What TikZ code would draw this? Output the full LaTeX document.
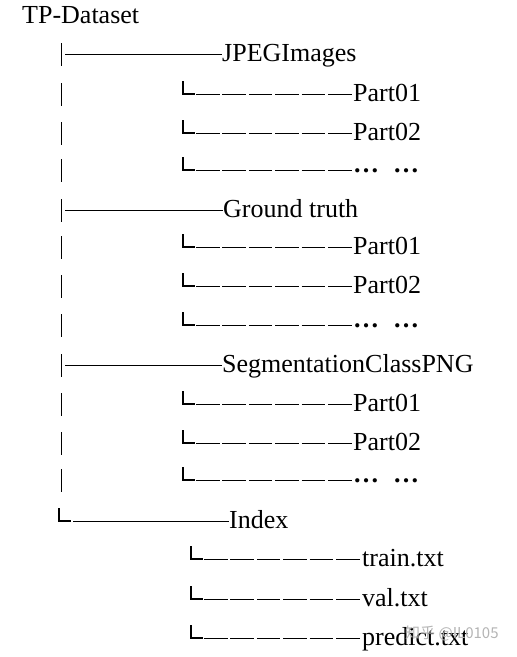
\documentclass[tikz,border=0pt]{standalone}
\usepackage{fontspec}
\setmainfont{Liberation Serif}
\newfontfamily\cjk{Noto Sans CJK SC}
\usepackage{xcolor}
\usetikzlibrary{calc}
\definecolor{ink}{HTML}{000000}
\definecolor{mark}{HTML}{B4B4B4}
\tikzset{
  lbl/.style={anchor=base west, inner sep=0pt, text=ink, font=\fontsize{26}{30}\selectfont},
  trunk/.style={draw=ink, line width=0.9pt},
  dline/.style={draw=ink, line width=0.9pt, dash pattern=on 23.6pt off 2.8pt},
  bar/.style={draw=ink, line width=1pt},
  corner/.style={draw=ink, line width=2pt},
  wm/.style={anchor=west, inner sep=0pt, text=mark, font=\cjk\fontsize{15}{18}\selectfont}
}

\begin{document}
\begin{tikzpicture}[x=1pt, y=-1pt]
  \useasboundingbox (0,0) rectangle (517,657);

  % root
  \node[lbl] (tp) at (22,23) {TP-Dataset};

  % left trunk bars
  \foreach \r in {54,94,133,170,210,247,286,325,365,404,443,480}
    \draw[bar] (61,\r-11) -- (61,\r+12);

  % JPEGImages
  \coordinate (jpegS) at (65,54);
  \node[lbl] (jpeg) at (222,61) {JPEGImages};
  \draw[trunk] (jpegS) -- (jpegS -| jpeg.west);

  \coordinate (jA) at (183,94);
  \coordinate (jB) at (183,133);
  \coordinate (jC) at (183,170);
  \node[lbl] (jAt) at (353,101) {Part01};
  \node[lbl] (jBt) at (353,140) {Part02};
  \node[lbl] (jCt) at (353,177) {\raisebox{5pt}{\bfseries …}\hspace{14pt}\raisebox{5pt}{\bfseries …}};
  \draw[corner] ($(jA)+(0,-13)$) -- (jA) -- ++(12,0);
  \draw[corner] ($(jB)+(0,-13)$) -- (jB) -- ++(12,0);
  \draw[corner] ($(jC)+(0,-13)$) -- (jC) -- ++(12,0);
  \draw[dline] ($(jA)+(13,0)$) -- (jA -| jAt.west);
  \draw[dline] ($(jB)+(13,0)$) -- (jB -| jBt.west);
  \draw[dline] ($(jC)+(13,0)$) -- (jC -| jCt.west);

  % Ground truth
  \coordinate (gtS) at (65,210);
  \node[lbl] (gt) at (223,217) {Ground truth};
  \draw[trunk] (gtS) -- (gtS -| gt.west);

  \coordinate (gA) at (183,247);
  \coordinate (gB) at (183,286);
  \coordinate (gC) at (183,325);
  \node[lbl] (gAt) at (353,254) {Part01};
  \node[lbl] (gBt) at (353,293) {Part02};
  \node[lbl] (gCt) at (353,332) {\raisebox{5pt}{\bfseries …}\hspace{14pt}\raisebox{5pt}{\bfseries …}};
  \draw[corner] ($(gA)+(0,-13)$) -- (gA) -- ++(12,0);
  \draw[corner] ($(gB)+(0,-13)$) -- (gB) -- ++(12,0);
  \draw[corner] ($(gC)+(0,-13)$) -- (gC) -- ++(12,0);
  \draw[dline] ($(gA)+(13,0)$) -- (gA -| gAt.west);
  \draw[dline] ($(gB)+(13,0)$) -- (gB -| gBt.west);
  \draw[dline] ($(gC)+(13,0)$) -- (gC -| gCt.west);

  % SegmentationClassPNG
  \coordinate (segS) at (65,365);
  \node[lbl] (seg) at (222,372) {SegmentationClassPNG};
  \draw[trunk] (segS) -- (segS -| seg.west);

  \coordinate (sA) at (183,404);
  \coordinate (sB) at (183,443);
  \coordinate (sC) at (183,480);
  \node[lbl] (sAt) at (353,411) {Part01};
  \node[lbl] (sBt) at (353,450) {Part02};
  \node[lbl] (sCt) at (353,487) {\raisebox{5pt}{\bfseries …}\hspace{14pt}\raisebox{5pt}{\bfseries …}};
  \draw[corner] ($(sA)+(0,-13)$) -- (sA) -- ++(12,0);
  \draw[corner] ($(sB)+(0,-13)$) -- (sB) -- ++(12,0);
  \draw[corner] ($(sC)+(0,-13)$) -- (sC) -- ++(12,0);
  \draw[dline] ($(sA)+(13,0)$) -- (sA -| sAt.west);
  \draw[dline] ($(sB)+(13,0)$) -- (sB -| sBt.west);
  \draw[dline] ($(sC)+(13,0)$) -- (sC -| sCt.west);

  % Index
  \coordinate (indexS) at (59,521);
  \node[lbl] (index) at (229,528) {Index};
  \draw[corner] ($(indexS)+(0,-13)$) -- (indexS) -- ++(12,0);
  \draw[trunk] ($(indexS)+(14,0)$) -- (indexS -| index.west);

  \coordinate (iA) at (191,559);
  \coordinate (iB) at (191,599);
  \coordinate (iC) at (191,638);
  \node[lbl] (train) at (362,566) {train.txt};
  \node[lbl] (val) at (362,606) {val.txt};
  \node[lbl] (predict) at (362,645) {predict.txt};
  \draw[corner] ($(iA)+(0,-13)$) -- (iA) -- ++(12,0);
  \draw[corner] ($(iB)+(0,-13)$) -- (iB) -- ++(12,0);
  \draw[corner] ($(iC)+(0,-13)$) -- (iC) -- ++(12,0);
  \draw[dline] ($(iA)+(13,0)$) -- (iA -| train.west);
  \draw[dline] ($(iB)+(13,0)$) -- (iB -| val.west);
  \draw[dline] ($(iC)+(13,0)$) -- (iC -| predict.west);

  % watermark
  \node[wm] (wmark) at (405,633) {知乎 @IL0105};
\end{tikzpicture}
\end{document}
